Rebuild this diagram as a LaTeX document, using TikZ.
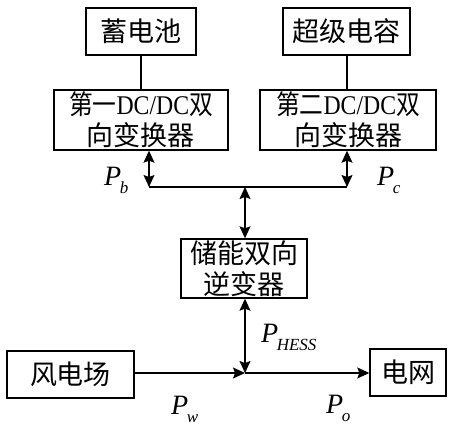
\documentclass[tikz,border=0pt]{standalone}
\usepackage{fontspec}
\setmainfont{Liberation Serif}
\newfontfamily\cjk{Noto Sans CJK SC}
\usetikzlibrary{arrows.meta}
\newcommand{\plab}[2]{\textit{P}\kern-1.5pt\raisebox{-8pt}{\fontsize{17}{17}\selectfont\textit{#2}}}
\begin{document}
\begin{tikzpicture}[x=1pt,y=-1pt,
  box/.style={draw,line width=1.4pt,inner sep=0pt,align=center,
    font=\fontsize{27}{31}\selectfont},
  conn/.style={line width=1.2pt},
  dbl/.style={line width=1.2pt,{Stealth[length=12pt,width=11pt,inset=2pt]}-{Stealth[length=12pt,width=11pt,inset=2pt]}},
  sgl/.style={line width=1.2pt,-{Stealth[length=12pt,width=11pt,inset=2pt]}},
  lab/.style={inner sep=0pt,anchor=base west,font=\fontsize{28}{28}\selectfont}]
\useasboundingbox (0,0) rectangle (474,428);
% boxes
\node[box,minimum width=110pt,minimum height=47pt] (bat) at (141,31.5) {\cjk 蓄电池};
\node[box,minimum width=127pt,minimum height=47pt] (sc) at (346.5,31.5) {\cjk 超级电容};
\node[box,minimum width=174pt,minimum height=60pt] (dc1) at (141,120) {\scalebox{0.88}[1]{{\cjk 第一}DC/DC{\cjk 双}}\\{\cjk 向变换器}};
\node[box,minimum width=176pt,minimum height=60pt] (dc2) at (348,120) {\scalebox{0.88}[1]{{\cjk 第二}DC/DC{\cjk 双}}\\{\cjk 向变换器}};
\node[box,minimum width=126pt,minimum height=59pt] (inv) at (244,268.5) {\cjk 储能双向\\\cjk 逆变器};
\node[box,minimum width=127pt,minimum height=47pt] (wind) at (70.5,374.5) {\cjk 风电场};
\node[box,minimum width=76pt,minimum height=47pt] (grid) at (408,372.5) {\cjk 电网};
% coordinates
\coordinate (bl) at (149,187);
\coordinate (br) at (347,187);
\coordinate (bm) at (245,187);
\coordinate (j) at (245,373);
% connectors
\draw[conn] (bat.south) -- (bat.south |- dc1.north);
\draw[conn] (347,55) coordinate (sct) -- (sct |- dc2.north);
\draw[dbl] (bl |- dc1.south) -- (bl);
\draw[dbl] (br |- dc2.south) -- (br);
\draw[conn] (bl) -- (br);
\draw[dbl] (bm) -- (bm |- inv.north);
\draw[dbl] (bm |- inv.south) -- (j);
\draw[sgl] (wind.east |- j) -- (j);
\draw[sgl] (j) -- (grid.west |- j);
% labels
\node[lab] (pb) at (104,185) {\plab{P}{b}};
\node[lab] (pc) at (377,185) {\plab{P}{c}};
\node[lab] (ph) at (261,342) {\plab{P}{HESS}};
\node[lab] (pw) at (171,414) {\plab{P}{w}};
\node[lab] (po) at (326,413) {\plab{P}{o}};
\end{tikzpicture}
\end{document}
